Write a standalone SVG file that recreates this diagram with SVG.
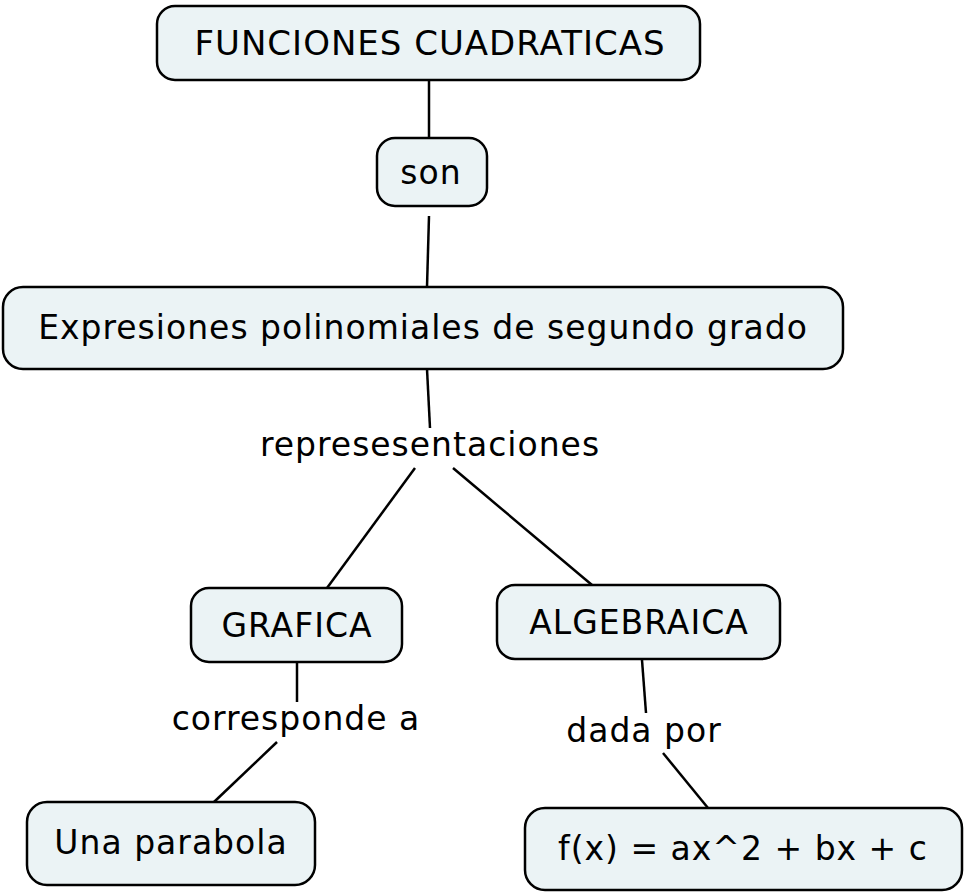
<svg xmlns="http://www.w3.org/2000/svg" width="969" height="895" viewBox="0 0 969 895">
<style>
.n rect{fill:#ebf3f5;stroke:#000;stroke-width:2.5}
text{font-family:"DejaVu Sans",Verdana,sans-serif;font-size:33px;letter-spacing:1px;fill:#000;text-anchor:middle;dominant-baseline:central}
#c line{stroke:#000;stroke-width:2.5}
</style>
<rect width="969" height="895" fill="#fff"/>
<g id="c">
<line x1="429" y1="80" x2="429" y2="138"/>
<line x1="429" y1="216" x2="427" y2="287"/>
<line x1="427" y1="369" x2="430" y2="428"/>
<line x1="415" y1="468" x2="327" y2="588"/>
<line x1="453" y1="468" x2="592" y2="585"/>
<line x1="297" y1="662" x2="297" y2="702"/>
<line x1="277" y1="742" x2="214" y2="802"/>
<line x1="642" y1="660" x2="646" y2="713"/>
<line x1="663" y1="753" x2="708" y2="808"/>
</g>
<g id="n1" class="n"><rect x="157" y="6" width="543" height="74" rx="18"/><text x="430" y="43" style="font-size:34px">FUNCIONES CUADRATICAS</text></g>
<g id="n2" class="n"><rect x="377" y="138" width="110" height="68" rx="18"/><text x="431" y="172">son</text></g>
<g id="n3" class="n"><rect x="3" y="287" width="840" height="82" rx="20"/><text x="423" y="327">Expresiones polinomiales de segundo grado</text></g>
<g id="l1"><text x="430" y="444">represesentaciones</text></g>
<g id="n4" class="n"><rect x="191" y="588" width="211" height="74" rx="18"/><text x="297" y="625">GRAFICA</text></g>
<g id="n5" class="n"><rect x="497" y="585" width="283" height="74" rx="18"/><text x="639" y="622">ALGEBRAICA</text></g>
<g id="l2"><text x="296" y="718">corresponde a</text></g>
<g id="l3"><text x="644" y="730">dada por</text></g>
<g id="n6" class="n"><rect x="27" y="802" width="288" height="83" rx="20"/><text x="171" y="842">Una parabola</text></g>
<g id="n7" class="n"><rect x="525" y="808" width="437" height="82" rx="20"/><text x="743" y="848">f(x) = ax^2 + bx + c</text></g>
</svg>
